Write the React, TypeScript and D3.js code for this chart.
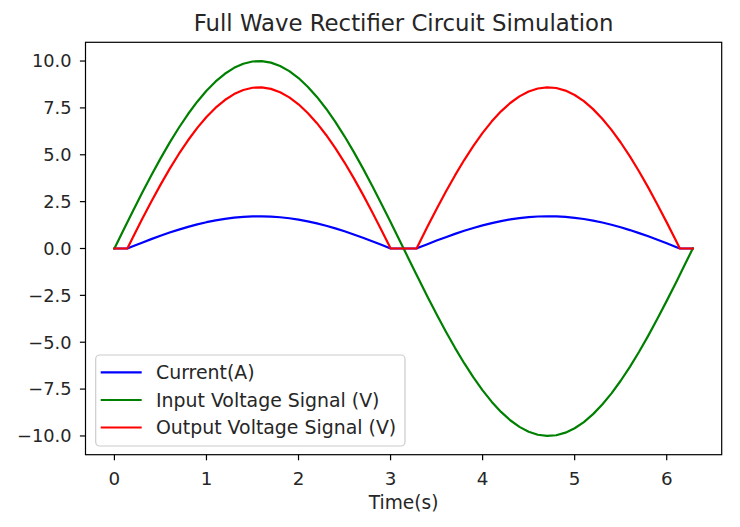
import React from "react";
import * as d3 from "d3";

const time = [0, 0.1, 0.1405, 0.2, 0.3, 0.4, 0.5, 0.6, 0.7, 0.8, 0.9, 1.0, 1.1, 1.2, 1.3, 1.4, 1.5, 1.6, 1.7, 1.8, 1.9, 2.0, 2.1, 2.2, 2.3, 2.4, 2.5, 2.6, 2.7, 2.8, 2.9, 3.0, 3.0011, 3.1, 3.2, 3.2821, 3.3, 3.4, 3.5, 3.6, 3.7, 3.8, 3.9, 4.0, 4.1, 4.2, 4.3, 4.4, 4.5, 4.6, 4.7, 4.8, 4.9, 5.0, 5.1, 5.2, 5.3, 5.4, 5.5, 5.6, 5.7, 5.8, 5.9, 6.0, 6.1, 6.1427, 6.2, 6.2832];

const inputVoltage = [0, 0.998, 1.4, 1.987, 2.955, 3.894, 4.794, 5.646, 6.442, 7.174, 7.833, 8.415, 8.912, 9.32, 9.636, 9.854, 9.975, 9.996, 9.917, 9.738, 9.463, 9.093, 8.632, 8.085, 7.457, 6.755, 5.985, 5.155, 4.274, 3.35, 2.392, 1.411, 1.4, 0.416, -0.584, -1.4, -1.577, -2.555, -3.508, -4.425, -5.298, -6.119, -6.878, -7.568, -8.183, -8.716, -9.162, -9.516, -9.775, -9.937, -10.0, -9.962, -9.825, -9.589, -9.258, -8.835, -8.323, -7.728, -7.055, -6.313, -5.507, -4.646, -3.739, -2.794, -1.822, -1.4, -0.831, 0];

const outputVoltage = [0, 0, 0, 0.587, 1.555, 2.494, 3.394, 4.246, 5.042, 5.774, 6.433, 7.015, 7.512, 7.92, 8.236, 8.454, 8.575, 8.596, 8.517, 8.338, 8.063, 7.693, 7.232, 6.685, 6.057, 5.355, 4.585, 3.755, 2.874, 1.95, 0.992, 0.011, 0, 0, 0, 0, 0.177, 1.155, 2.108, 3.025, 3.898, 4.719, 5.478, 6.168, 6.783, 7.316, 7.762, 8.116, 8.375, 8.537, 8.6, 8.562, 8.425, 8.189, 7.858, 7.435, 6.923, 6.328, 5.655, 4.913, 4.107, 3.246, 2.339, 1.394, 0.422, 0, 0, 0];

const current = [0, 0, 0, 0.117, 0.311, 0.499, 0.679, 0.849, 1.008, 1.155, 1.287, 1.403, 1.502, 1.584, 1.647, 1.691, 1.715, 1.719, 1.703, 1.668, 1.613, 1.539, 1.446, 1.337, 1.211, 1.071, 0.917, 0.751, 0.575, 0.39, 0.198, 0.002, 0, 0, 0, 0, 0.035, 0.231, 0.422, 0.605, 0.78, 0.944, 1.096, 1.234, 1.357, 1.463, 1.552, 1.623, 1.675, 1.707, 1.72, 1.712, 1.685, 1.638, 1.572, 1.487, 1.385, 1.266, 1.131, 0.983, 0.821, 0.649, 0.468, 0.279, 0.084, 0, 0, 0];

const xTicks = [0, 1, 2, 3, 4, 5, 6];
const yTicks = [-10, -7.5, -5, -2.5, 0, 2.5, 5, 7.5, 10];

const seriesNames = ["Current(A)", "Input Voltage Signal (V)", "Output Voltage Signal (V)"];
const seriesColors = ["#0000ff", "#008000", "#ff0000"];
const titleText = "Full Wave Rectifier Circuit Simulation";
const xLabelText = "Time(s)";

const W = 740;
const H = 527;
const left = 85.5;
const right = 721.7;
const top = 42.3;
const bottom = 454.7;
const FONT = "DejaVu Sans, sans-serif";

export default function App() {
  const xMax = time[time.length - 1];
  const xPad = xMax * 0.05;
  const x = d3.scaleLinear().domain([-xPad, xMax + xPad]).range([left, right]);
  const y = d3.scaleLinear().domain([-11, 11]).range([bottom, top]);

  const series = [current, inputVoltage, outputVoltage];
  const line = (vals: number[]) =>
    d3
      .line<number>()
      .x((_, i) => x(time[i]))
      .y((v) => y(v))
      .curve(d3.curveLinear)(vals) || "";

  const fmtY = (v: number) => {
    const s = v.toFixed(1);
    return v < 0 ? "\u2212" + s.slice(1) : s;
  };

  const legX = 95.7;
  const legY = 355;
  const legW = 309.3;
  const legH = 91;
  const rowY = [372.3, 400, 427.5];

  return (
    <svg
      width={W}
      height={H}
      style={{ position: "absolute", left: 0, top: 0, background: "#fff" }}
      fontFamily={FONT}
    >
      <rect x={0} y={0} width={W} height={H} fill="#fff" />
      <defs>
        <clipPath id="plotclip">
          <rect x={left} y={top} width={right - left} height={bottom - top} />
        </clipPath>
      </defs>
      <g clipPath="url(#plotclip)">
        {series.map((s, i) => (
          <path
            key={i}
            d={line(s)}
            fill="none"
            stroke={seriesColors[i]}
            strokeWidth={2.2}
            strokeLinejoin="round"
            strokeLinecap="square"
          />
        ))}
      </g>
      <rect
        x={left}
        y={top}
        width={right - left}
        height={bottom - top}
        fill="none"
        stroke="#000"
        strokeWidth={1.2}
      />
      {xTicks.map((t) => (
        <g key={"x" + t}>
          <line x1={x(t)} x2={x(t)} y1={bottom} y2={bottom + 5.6} stroke="#000" strokeWidth={1.2} />
          <text x={x(t)} y={bottom + 30} textAnchor="middle" fontSize={18.3} fill="#262626">
            {String(t)}
          </text>
        </g>
      ))}
      {yTicks.map((t) => (
        <g key={"y" + t}>
          <line x1={left - 5.6} x2={left} y1={y(t)} y2={y(t)} stroke="#000" strokeWidth={1.2} />
          <text
            x={left - 14}
            y={y(t)}
            dy="0.36em"
            textAnchor="end"
            fontSize={17.8}
            fill="#262626"
          >
            {fmtY(t)}
          </text>
        </g>
      ))}
      <text x={(left + right) / 2} y={31} textAnchor="middle" fontSize={22.8} fill="#262626">
        {titleText}
      </text>
      <text x={(left + right) / 2} y={509} textAnchor="middle" fontSize={18.6} fill="#262626">
        {xLabelText}
      </text>
      <rect
        x={legX}
        y={legY}
        width={legW}
        height={legH}
        rx={4}
        ry={4}
        fill="#fff"
        fillOpacity={0.8}
        stroke="#cccccc"
        strokeWidth={1.2}
      />
      {seriesNames.map((name, i) => (
        <g key={name}>
          <line
            x1={100.7}
            x2={141.7}
            y1={rowY[i]}
            y2={rowY[i]}
            stroke={seriesColors[i]}
            strokeWidth={2.2}
          />
          <text x={156} y={rowY[i]} dy="0.36em" fontSize={18.9} fill="#262626">
            {name}
          </text>
        </g>
      ))}
    </svg>
  );
}
